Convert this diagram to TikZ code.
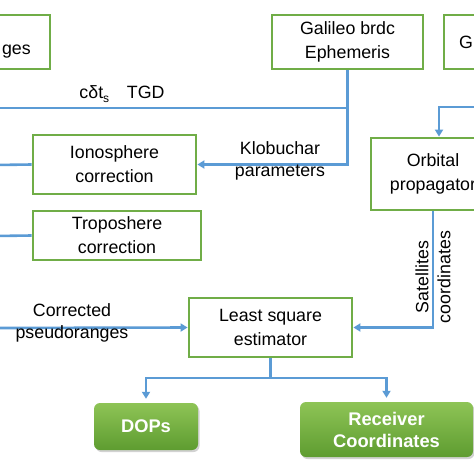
\documentclass[tikz,border=0pt]{standalone}
\usepackage{fontspec}
\setmainfont{Liberation Sans}
\usetikzlibrary{arrows.meta,shadows}
\definecolor{gbord}{HTML}{70AD47}
\definecolor{bline}{HTML}{5B9BD5}
\definecolor{gtop}{HTML}{8EC456}
\definecolor{gbot}{HTML}{5E9C30}
\tikzset{
  box/.style={draw=gbord, line width=2.8pt, fill=white, align=center, inner sep=0pt,
    font=\fontsize{17.8}{24}\selectfont},
  gbox/.style={rounded corners=6pt, top color=gtop, bottom color=gbot, draw=none,
    align=center, inner sep=0pt, text=white,
    font=\fontsize{18.3}{22}\selectfont\bfseries,
    drop shadow={shadow xshift=1.5pt, shadow yshift=-2pt, opacity=0.35}},
  lbl/.style={align=center, inner sep=0pt, font=\fontsize{17.8}{22}\selectfont},
  conn/.style={draw=bline, line width=2.6pt},
  arr/.style={conn, -{Triangle[length=7pt,width=8pt]}}
}
\begin{document}
\begin{tikzpicture}[x=1pt,y=-1pt]
\useasboundingbox (0,0) rectangle (474,474);
\fill[white] (0,0) rectangle (474,474);
\clip (0,0) rectangle (474,474);
% boxes
\node[box, minimum width=156pt, minimum height=54pt] (pr) at (-28,42) {};
\node[lbl, anchor=east] (prt) at (31,52) {ges};
\node[box, minimum width=151pt, minimum height=54pt] (gal) at (347.5,42) {Galileo brdc\\Ephemeris};
\node[box, minimum width=116pt, minimum height=54pt] (gb) at (502,42) {};
\node[lbl, anchor=west] (gbt) at (459,42) {G};
\node[box, minimum width=163pt, minimum height=59pt] (iono) at (114.5,164.5) {Ionosphere\\correction};
\node[box, minimum width=168pt, minimum height=49pt] (tropo) at (117,235.5) {Troposhere\\correction};
\node[box, minimum width=124pt, minimum height=72pt] (orb) at (433,174) {Orbital\\propagator};
\node[box, minimum width=163pt, minimum height=59pt] (lse) at (270.5,327.5) {Least square\\estimator};
\node[gbox, minimum width=104pt, minimum height=47pt] (dops) at (146,426.5) {DOPs};
\node[gbox, minimum width=173pt, minimum height=55pt] (rec) at (386.5,429.5) {Receiver\\Coordinates};
% free ends
\coordinate (c1) at (-5,108);
\coordinate (c2) at (347,108);
\coordinate (c3) at (-5,165);
\coordinate (c4) at (-5,236);
\coordinate (c5) at (-5,328);
\coordinate (c6) at (490,107);
\coordinate (c7) at (270.5,378);
% connectors
\draw[arr] (gal.south) |- (iono.east);
\draw[conn] (c2) -- (c1);
\draw[conn] (iono.west) -- (c3);
\draw[conn] (tropo.west) -- (c4);
\draw[arr] (c5) -- (lse.west);
\draw[arr] (c6) -| ([xshift=6pt]orb.north);
\draw[arr] (orb.south) |- (lse.east);
\draw[conn] (lse.south) -- (c7);
\draw[arr, shorten >=4pt] (c7) -| (dops.north);
\draw[arr, shorten >=4pt] (c7) -| (rec.north);
% labels
\node[lbl] (l1) at (122,94) {cδt\raisebox{-0.45ex}{\fontsize{12}{12}\selectfont s}\quad TGD};
\node[lbl] (l2) at (280,161) {Klobuchar\\parameters};
\node[lbl] (l3) at (72,323) {Corrected\\pseudoranges};
\node[lbl, rotate=90] (l4) at (433,277) {Satellites\\coordinates};
\end{tikzpicture}
\end{document}
